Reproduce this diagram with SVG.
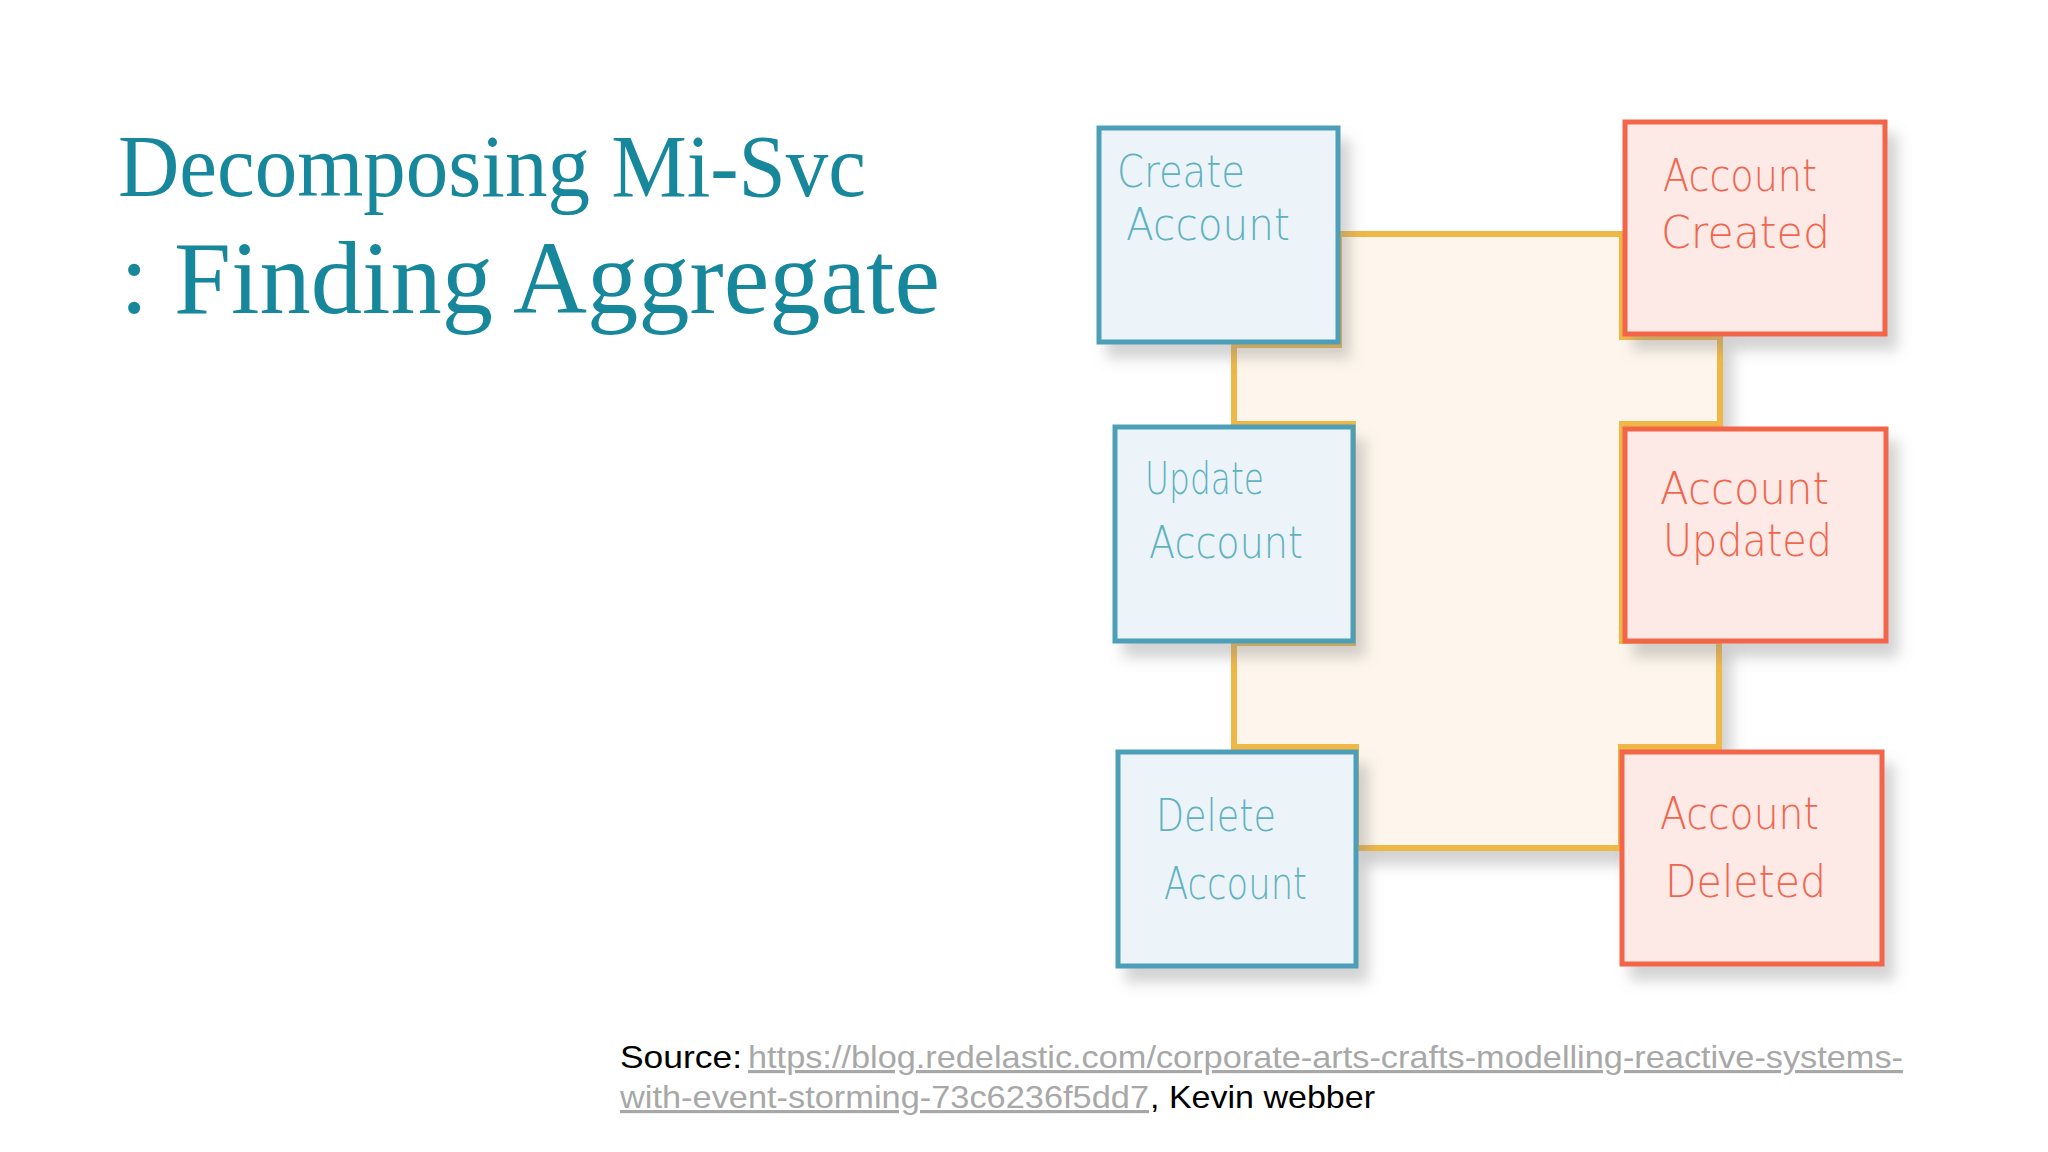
<svg xmlns="http://www.w3.org/2000/svg" width="2048" height="1152" viewBox="0 0 2048 1152">
  <defs>
    <filter id="shadow" x="-10%" y="-10%" width="130%" height="130%">
      <feDropShadow dx="10" dy="14" stdDeviation="7" flood-color="#8a8a8a" flood-opacity="0.38"/>
    </filter>
  </defs>
  <style>
    .title { font-family: "Liberation Serif", "Times New Roman", serif; fill: #17879c; }
    .cmd { fill: #ecf4f9; stroke: #4d9fb8; stroke-width: 5; filter: url(#shadow); }
    .evt { fill: #fde9e6; stroke: #f2654a; stroke-width: 5; filter: url(#shadow); }
    .agg { fill: #fef6ec; stroke: #efb744; stroke-width: 6; stroke-linejoin: miter; filter: url(#shadow); }
    .hand { font-family: "DejaVu Sans", "Liberation Sans", sans-serif; font-weight: 200; font-size: 44px; }
    .cmdt { fill: #5fb2c1; }
    .evtt { fill: #f0654c; }
    .src { font-family: "Liberation Sans", Arial, sans-serif; font-size: 32px; }
    .link { fill: #a8a8a8; text-decoration: underline; }
  </style>
  <rect x="0" y="0" width="2048" height="1152" fill="#ffffff"/>

  <g id="title">
    <text class="title" x="118" y="196" font-size="88" textLength="748" lengthAdjust="spacingAndGlyphs">Decomposing Mi-Svc</text>
    <text class="title" x="120" y="313" font-size="104" textLength="820" lengthAdjust="spacingAndGlyphs">: Finding Aggregate</text>
  </g>

  <g id="aggregate">
    <path class="agg" d="M1339,234 L1622,234 L1622,337 L1720,337 L1720,424 L1622,424 L1622,641 L1719,641 L1719,747 L1621,747 L1621,848 L1356,848 L1356,747 L1234,747 L1234,643 L1353,643 L1353,424 L1234,424 L1234,345 L1339,345 Z"/>
  </g>

  <g id="connectors"></g>

  <g id="create-account">
    <rect class="cmd" x="1099" y="128" width="239" height="214"/>
    <text class="hand cmdt" x="1117" y="187" textLength="128" lengthAdjust="spacingAndGlyphs">Create</text>
    <text class="hand cmdt" x="1126" y="240" textLength="164" lengthAdjust="spacingAndGlyphs">Account</text>
  </g>

  <g id="account-created">
    <rect class="evt" x="1625" y="122" width="260" height="212"/>
    <text class="hand evtt" x="1663" y="191" textLength="154" lengthAdjust="spacingAndGlyphs">Account</text>
    <text class="hand evtt" x="1661" y="248" textLength="169" lengthAdjust="spacingAndGlyphs">Created</text>
  </g>

  <g id="update-account">
    <rect class="cmd" x="1115" y="427" width="238" height="214"/>
    <text class="hand cmdt" x="1145" y="494" textLength="119" lengthAdjust="spacingAndGlyphs">Update</text>
    <text class="hand cmdt" x="1149" y="558" textLength="154" lengthAdjust="spacingAndGlyphs">Account</text>
  </g>

  <g id="account-updated">
    <rect class="evt" x="1625" y="429" width="261" height="212"/>
    <text class="hand evtt" x="1660" y="504" textLength="169" lengthAdjust="spacingAndGlyphs">Account</text>
    <text class="hand evtt" x="1663" y="556" textLength="169" lengthAdjust="spacingAndGlyphs">Updated</text>
  </g>

  <g id="delete-account">
    <rect class="cmd" x="1118" y="752" width="238" height="214"/>
    <text class="hand cmdt" x="1156" y="831" textLength="120" lengthAdjust="spacingAndGlyphs">Delete</text>
    <text class="hand cmdt" x="1164" y="899" textLength="143" lengthAdjust="spacingAndGlyphs">Account</text>
  </g>

  <g id="account-deleted">
    <rect class="evt" x="1622" y="752" width="260" height="212"/>
    <text class="hand evtt" x="1660" y="829" textLength="159" lengthAdjust="spacingAndGlyphs">Account</text>
    <text class="hand evtt" x="1665" y="897" textLength="161" lengthAdjust="spacingAndGlyphs">Deleted</text>
  </g>

  <g id="source">
    <text class="src" x="620" y="1068" fill="#000000" textLength="122" lengthAdjust="spacingAndGlyphs">Source:</text>
    <text class="src link" x="748" y="1068" textLength="1155" lengthAdjust="spacingAndGlyphs">https://blog.redelastic.com/corporate-arts-crafts-modelling-reactive-systems-</text>
    <text class="src link" x="620" y="1108" textLength="529" lengthAdjust="spacingAndGlyphs">with-event-storming-73c6236f5dd7</text>
    <text class="src" x="1150" y="1108" fill="#000000" textLength="225" lengthAdjust="spacingAndGlyphs">, Kevin webber</text>
  </g>
</svg>
